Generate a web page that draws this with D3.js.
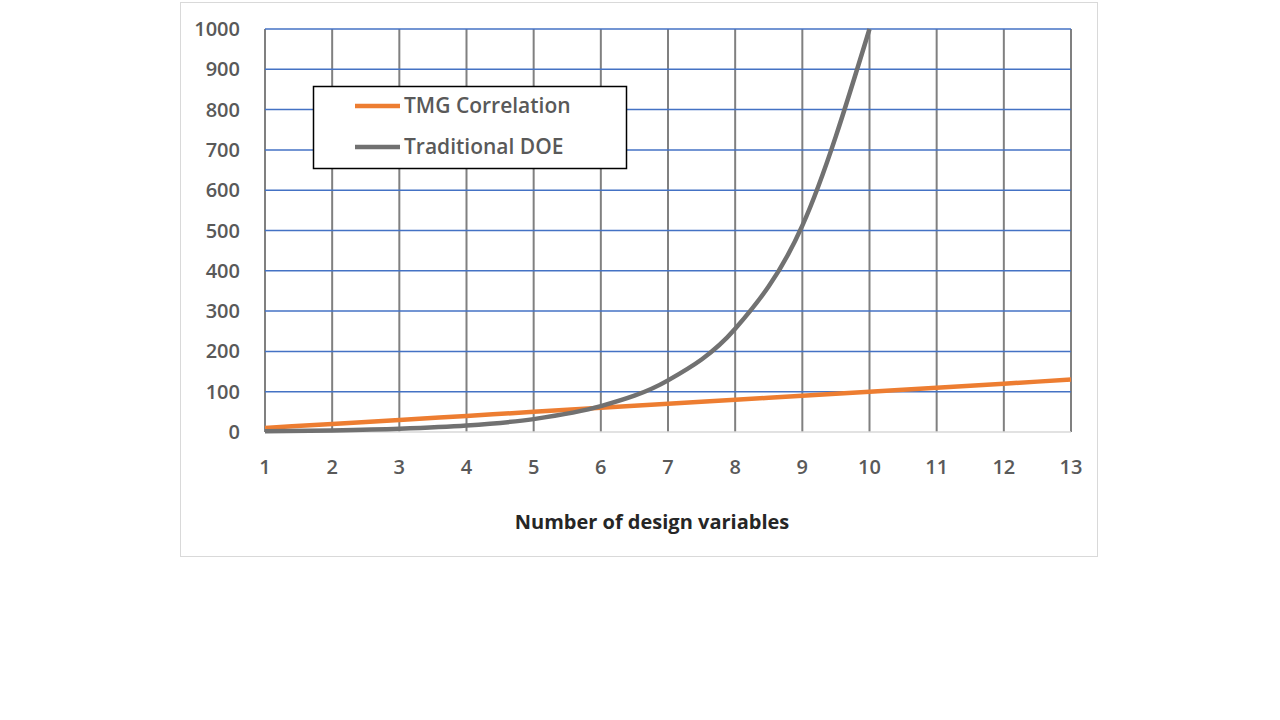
<!DOCTYPE html><html><head><meta charset="utf-8">
<script src="https://cdn.jsdelivr.net/npm/d3@7"></script>
<style>body{margin:0;background:#fff}text{font-family:"Open Sans","Noto Sans",sans-serif}</style></head><body>
<svg id="c" width="1280" height="720"></svg>
<script>
const xValues=[1,2,3,4,5,6,7,8,9,10,11,12,13];
const tmgValues=[10,20,30,40,50,60,70,80,90,100,110,120,130];
const doeX=[1,2,3,4,5,6,7,8,9,10];
const doeValues=[2,4,8,16,32,64,128,256,512,1000];
const yTicks=[0,100,200,300,400,500,600,700,800,900,1000];
const seriesNames=["TMG Correlation","Traditional DOE"];
const xTitle="Number of design variables";

const svg=d3.select("#c");
svg.append("rect").attr("x",180.5).attr("y",2.5).attr("width",917).attr("height",554).attr("fill","#fff").attr("stroke","#d9d9d9");
const x=d3.scaleLinear().domain([1,13]).range([265,1071]);
const y=d3.scaleLinear().domain([0,1000]).range([432,29]);
const g=svg.append("g");
g.selectAll(".vg").data(xValues).join("line").attr("x1",d=>x(d)).attr("x2",d=>x(d)).attr("y1",y(0)).attr("y2",y(1000)).attr("stroke","#808080").attr("stroke-width",2);
g.selectAll(".hg").data(yTicks).join("line").attr("x1",x(1)).attr("x2",x(13)).attr("y1",d=>y(d)).attr("y2",d=>y(d)).attr("stroke",d=>d===0?"#d9d9d9":"#4472c4").attr("stroke-width",1.5);
g.selectAll(".yl").data(yTicks).join("text").attr("x",240).attr("y",d=>y(d)).attr("dy","0.35em").attr("text-anchor","end").attr("font-size",20).attr("font-weight",600).attr("fill","#595959").text(d=>d);
g.selectAll(".xl").data(xValues).join("text").attr("x",d=>x(d)).attr("y",474).attr("text-anchor","middle").attr("font-size",20).attr("font-weight",600).attr("fill","#595959").text(d=>d);
svg.append("text").attr("x",652).attr("y",529).attr("text-anchor","middle").attr("font-size",20).attr("font-weight",700).attr("fill","#262626").text(xTitle);
const line=d3.line().x(d=>x(d[0])).y(d=>y(d[1])).curve(d3.curveMonotoneX);
svg.append("path").attr("d",line(xValues.map((v,i)=>[v,tmgValues[i]]))).attr("fill","none").attr("stroke","#ed7d31").attr("stroke-width",4.5);
svg.append("path").attr("d",line(doeX.map((v,i)=>[v,doeValues[i]]))).attr("fill","none").attr("stroke","#717171").attr("stroke-width",4.5);
const lg=svg.append("g");
lg.append("rect").attr("x",313.5).attr("y",86.5).attr("width",313).attr("height",82).attr("fill","#fff").attr("stroke","#000").attr("stroke-width",1.5);
const cols=["#ed7d31","#717171"];
seriesNames.forEach((n,i)=>{const yy=106+i*41;
lg.append("line").attr("x1",355).attr("x2",400).attr("y1",yy).attr("y2",yy).attr("stroke",cols[i]).attr("stroke-width",4.5);
lg.append("text").attr("x",404).attr("y",yy).attr("dy","0.35em").attr("font-size",21).attr("font-weight",600).attr("fill","#595959").text(n);});
</script></body></html>
